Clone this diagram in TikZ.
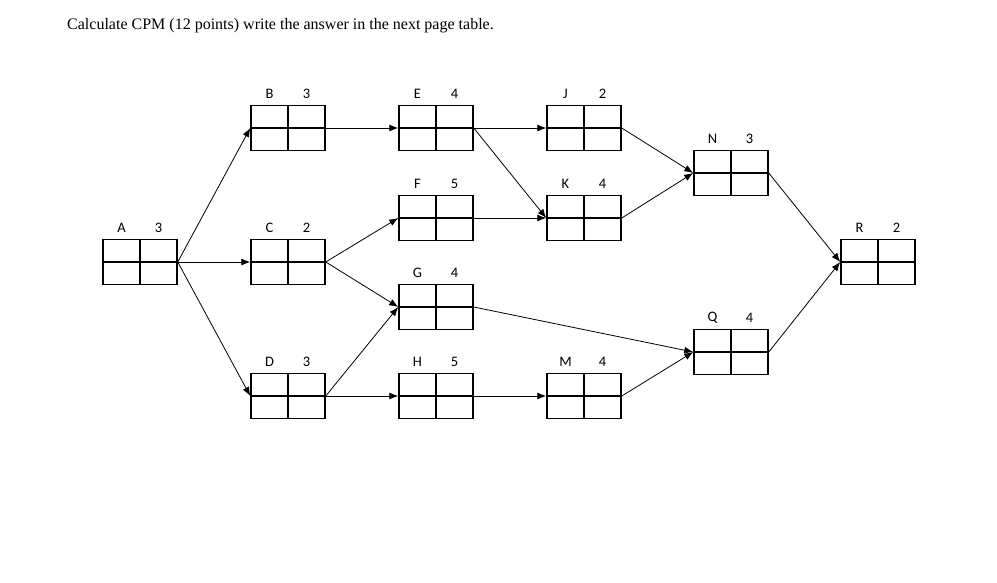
\documentclass[tikz,border=0pt]{standalone}
\usepackage{fontspec}
\setmainfont{Liberation Serif}
\newfontfamily\labelfont{Carlito}
\usetikzlibrary{arrows.meta}

% one activity box: name, x, y, letter, duration
\newcommand{\activity}[5]{%
  \node[actbox] (#1) at (#2,#3) {};
  \node[actlabel] (#1-l) at ([xshift=-18.5pt,yshift=11pt]#1.north) {#4};
  \node[actlabel] (#1-d) at ([xshift=18.5pt,yshift=11pt]#1.north) {#5};
}

\tikzset{
  actbox/.style={draw, line width=1.5pt, minimum width=74pt, minimum height=45pt,
    inner sep=0pt,
    path picture={
      \draw[line width=1.5pt] (path picture bounding box.north) -- (path picture bounding box.south);
      \draw[line width=1.5pt] (path picture bounding box.west) -- (path picture bounding box.east);
    }},
  actlabel/.style={font=\labelfont\fontsize{14.5}{16}\selectfont, inner sep=0pt},
  link/.style={line width=0.8pt, -{Latex[length=9pt,width=7pt]}}
}

\begin{document}
\begin{tikzpicture}[x=1pt,y=-1pt]
  \useasboundingbox (0,0) rectangle (997,582);

  % title
  \node[anchor=west, inner sep=0pt, font=\fontsize{16}{19}\selectfont] (title) at (67,26)
    {Calculate CPM (12 points) write the answer in the next page table.};

  % activities
  \activity{A}{140}{262}{A}{3}
  \activity{B}{288}{128}{B}{3}
  \activity{C}{288}{262}{C}{2}
  \activity{D}{288}{396}{D}{3}
  \activity{E}{436}{128}{E}{4}
  \activity{F}{436}{218}{F}{5}
  \activity{G}{436}{307}{G}{4}
  \activity{H}{436}{396}{H}{5}
  \activity{J}{584}{128}{J}{2}
  \activity{K}{584}{218}{K}{4}
  \activity{M}{584}{396}{M}{4}
  \activity{N}{731}{173}{N}{3}
  \activity{Q}{731}{352}{Q}{4}
  \activity{R}{878}{262}{R}{2}

  % precedences
  \foreach \s/\t in {A/B, A/C, A/D, B/E, C/F, C/G, D/G, D/H,
                     E/J, E/K, F/K, H/M, J/N, K/N, G/Q, M/Q, N/R, Q/R}
    \draw[link] (\s.east) -- (\t.west);
\end{tikzpicture}
\end{document}
